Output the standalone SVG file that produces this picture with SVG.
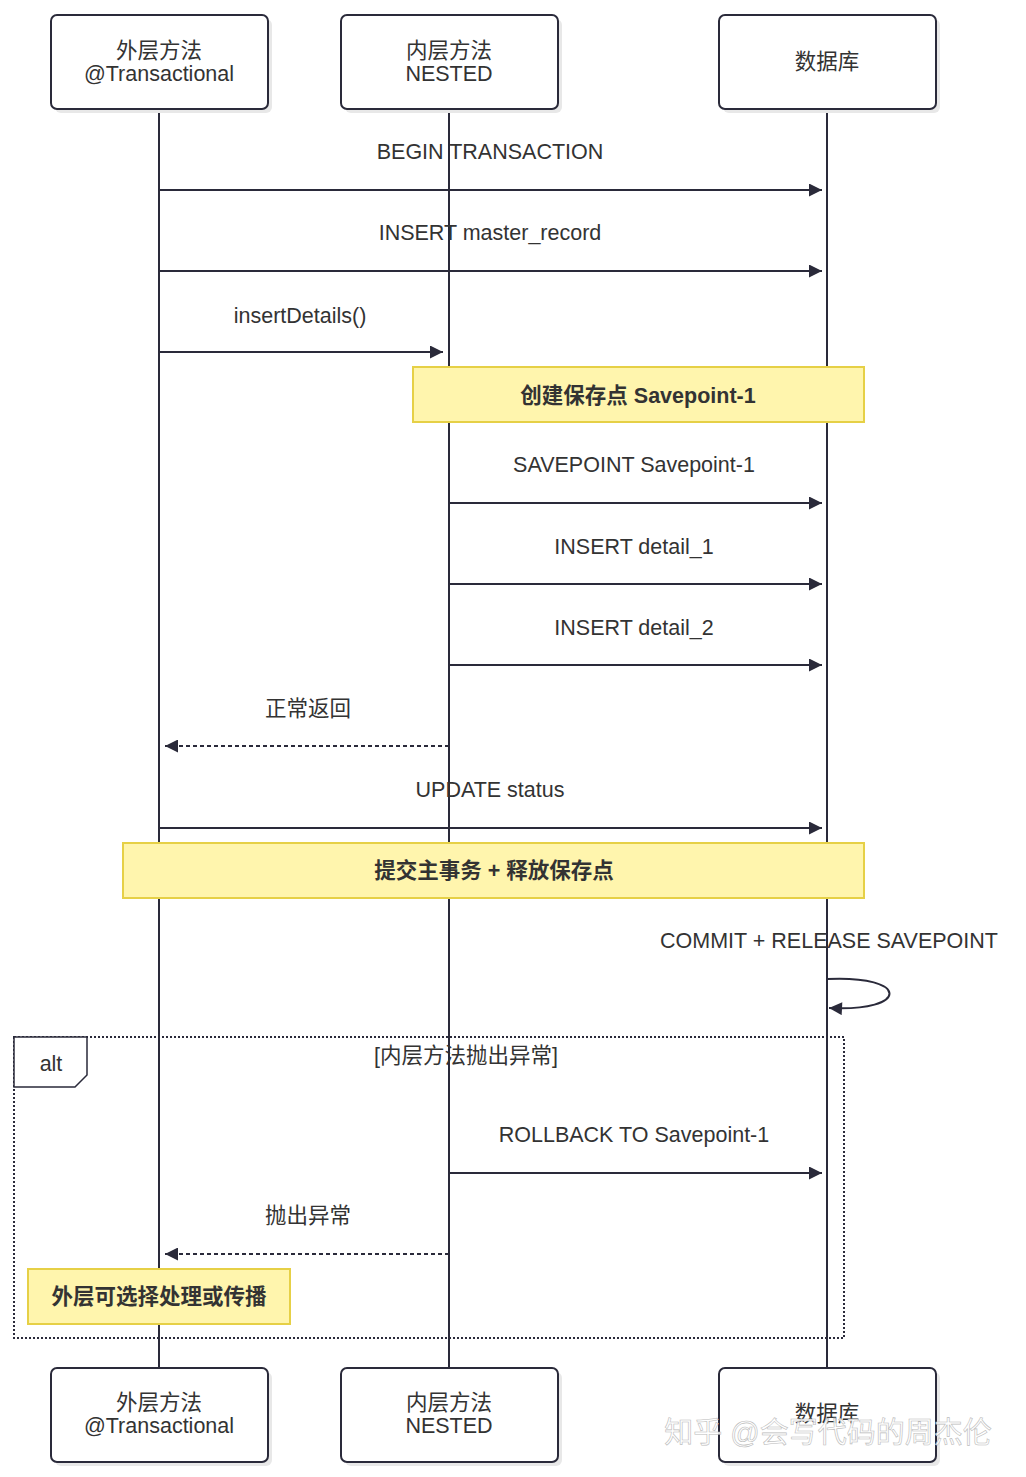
<svg xmlns="http://www.w3.org/2000/svg" width="1026" height="1477" viewBox="0 0 1026 1477">
<style>
text{font-family:"Liberation Sans","Noto Sans CJK SC",sans-serif;fill:#333;font-size:21.5px;text-anchor:middle}
.actor rect{fill:#fff;stroke:#2a2a3a;stroke-width:2}
.life{stroke:#2a2a3a;stroke-width:2}
.msg{stroke:#2a2a3a;stroke-width:2;fill:none;marker-end:url(#ah)}
.dash{stroke-dasharray:4,3}
.note rect{fill:#fff5ad;stroke:#e6d046;stroke-width:2}
.note text{font-weight:bold}
</style>
<defs>
<marker id="ah" viewBox="0 0 10 10" refX="10" refY="5" markerWidth="15" markerHeight="13" markerUnits="userSpaceOnUse" orient="auto"><path d="M0,0L10,5L0,10z" fill="#2a2a3a"/></marker>
</defs>
<rect width="1026" height="1477" fill="#fff"/>
<g id="lifelines">
<line class="life" x1="159" y1="109" x2="159" y2="1368"/>
<line class="life" x1="449" y1="109" x2="449" y2="1368"/>
<line class="life" x1="827" y1="109" x2="827" y2="1368"/>
</g>
<g id="actor-outer" class="actor"><rect x="55" y="19" width="217" height="94" rx="6" style="stroke:none;fill:#e8e8e8"/><rect x="51" y="15" width="217" height="94" rx="6"/><text x="159" y="58">外层方法</text><text x="159" y="81">@Transactional</text></g>
<g id="actor-inner" class="actor"><rect x="345" y="19" width="217" height="94" rx="6" style="stroke:none;fill:#e8e8e8"/><rect x="341" y="15" width="217" height="94" rx="6"/><text x="449" y="58">内层方法</text><text x="449" y="81">NESTED</text></g>
<g id="actor-db" class="actor"><rect x="723" y="19" width="217" height="94" rx="6" style="stroke:none;fill:#e8e8e8"/><rect x="719" y="15" width="217" height="94" rx="6"/><text x="827" y="69">数据库</text></g>
<g id="alt">
<rect x="14" y="1037" width="830" height="301" fill="none" stroke="#2a2a3a" stroke-width="2" stroke-dasharray="2,2"/>
<path d="M14,1037H87V1075L75,1087H14Z" fill="#fff" stroke="#2a2a3a" stroke-width="1.5"/>
<text x="51" y="1071">alt</text>
<text x="466" y="1063">[内层方法抛出异常]</text>
</g>
<g id="connectors">
<text x="490" y="159">BEGIN TRANSACTION</text>
<line class="msg" x1="159" y1="190" x2="822" y2="190"/>
<text x="490" y="240">INSERT master_record</text>
<line class="msg" x1="159" y1="271" x2="822" y2="271"/>
<text x="300" y="323">insertDetails()</text>
<line class="msg" x1="159" y1="352" x2="443" y2="352"/>
<text x="634" y="472">SAVEPOINT Savepoint-1</text>
<line class="msg" x1="449" y1="503" x2="822" y2="503"/>
<text x="634" y="554">INSERT detail_1</text>
<line class="msg" x1="449" y1="584" x2="822" y2="584"/>
<text x="634" y="635">INSERT detail_2</text>
<line class="msg" x1="449" y1="665" x2="822" y2="665"/>
<text x="308" y="716">正常返回</text>
<line class="msg dash" x1="449" y1="746" x2="165" y2="746"/>
<text x="490" y="797">UPDATE status</text>
<line class="msg" x1="159" y1="828" x2="822" y2="828"/>
<text x="829" y="948">COMMIT + RELEASE SAVEPOINT</text>
<path class="msg" d="M827,979C910,975 910,1012 829,1008"/>
<text x="634" y="1142">ROLLBACK TO Savepoint-1</text>
<line class="msg" x1="449" y1="1173" x2="822" y2="1173"/>
<text x="308" y="1223">抛出异常</text>
<line class="msg dash" x1="449" y1="1254" x2="165" y2="1254"/>
</g>
<g id="note1" class="note"><rect x="413" y="367" width="451" height="55"/><text x="638" y="403">创建保存点 Savepoint-1</text></g>
<g id="note2" class="note"><rect x="123" y="843" width="741" height="55"/><text x="494" y="878">提交主事务 + 释放保存点</text></g>
<g id="note3" class="note"><rect x="28" y="1269" width="262" height="55"/><text x="159" y="1304">外层可选择处理或传播</text></g>
<g id="actor-outer-b" class="actor"><rect x="55" y="1372" width="217" height="94" rx="6" style="stroke:none;fill:#e8e8e8"/><rect x="51" y="1368" width="217" height="94" rx="6"/><text x="159" y="1410">外层方法</text><text x="159" y="1433">@Transactional</text></g>
<g id="actor-inner-b" class="actor"><rect x="345" y="1372" width="217" height="94" rx="6" style="stroke:none;fill:#e8e8e8"/><rect x="341" y="1368" width="217" height="94" rx="6"/><text x="449" y="1410">内层方法</text><text x="449" y="1433">NESTED</text></g>
<g id="actor-db-b" class="actor"><rect x="723" y="1372" width="217" height="94" rx="6" style="stroke:none;fill:#e8e8e8"/><rect x="719" y="1368" width="217" height="94" rx="6"/><text x="827" y="1421">数据库</text></g>
<text x="828" y="1443" style="font-size:29px;fill:#fff;fill-opacity:0.85;stroke:#bbb;stroke-width:0.6">知乎 @会写代码的周杰伦</text>
</svg>
